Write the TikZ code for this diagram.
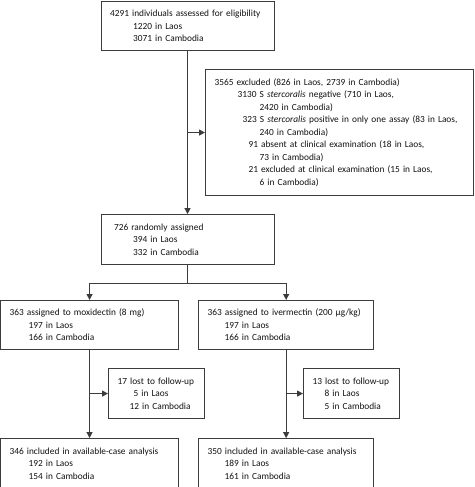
\documentclass[tikz,border=0pt]{standalone}
\usepackage{fontspec}
\setmainfont{Carlito}
\usepackage{tikz}
\usetikzlibrary{arrows.meta,positioning}

\definecolor{edgegray}{HTML}{3C3C3C}
\definecolor{inkgray}{HTML}{111111}
\newcommand{\ind}[2]{\hspace*{#1pt}#2}

\begin{document}
\begin{tikzpicture}[
  x=1pt, y=-1pt,
  font=\fontsize{9.35}{12.5}\selectfont,
  box/.style={draw=edgegray, line width=1.1pt, align=left, inner xsep=9pt, inner ysep=0pt, text=inkgray},
  flow/.style={-{Triangle[length=6pt,width=6pt]}, draw=edgegray, line width=1.1pt},
  link/.style={draw=edgegray, line width=1.1pt}
]
\clip (0,0) rectangle (474,487);

\node[box, anchor=north west, text width=155pt, minimum height=49pt] (elig) at (100.5,1)
  {4291 individuals assessed for eligibility\\ \ind{23}{1220 in Laos}\\ \ind{23}{3071 in Cambodia}};
\node[box, below=163pt of elig, text width=151pt, inner xsep=11pt, minimum height=50pt] (rand)
  {\ind{2}{726 randomly assigned}\\ \ind{21}{394 in Laos}\\ \ind{21}{332 in Cambodia}};
\node[box, anchor=north west, text width=250pt, minimum height=126pt] (excl) at (205,69)
  {3565 excluded (826 in Laos, 2739 in Cambodia)\\
   \ind{23}{3130 S \textit{stercoralis} negative (710 in Laos,}\\
   \ind{45}{2420 in Cambodia)}\\
   \ind{28}{323 S \textit{stercoralis} positive in only one assay (83 in Laos,}\\
   \ind{45}{240 in Cambodia)}\\
   \ind{34}{91 absent at clinical examination (18 in Laos,}\\
   \ind{45}{73 in Cambodia)}\\
   \ind{34}{21 excluded at clinical examination (15 in Laos,}\\
   \ind{45}{6 in Cambodia)}};

\node[box, anchor=north west, text width=160pt, minimum height=49pt] (moxi) at (0,300)
  {363 assigned to moxidectin (8 mg)\\ \ind{19}{197 in Laos}\\ \ind{19}{166 in Cambodia}};
\node[box, right=19pt of moxi, text width=157pt, minimum height=49pt] (iver)
  {363 assigned to ivermectin (200 µg/kg)\\ \ind{17}{197 in Laos}\\ \ind{17}{166 in Cambodia}};

\node[box, anchor=north west, text width=78pt, minimum height=50pt] (lostA) at (108,368)
  {17 lost to follow-up\\ \ind{16}{5 in Laos}\\ \ind{12}{12 in Cambodia}};
\node[box, anchor=north west, text width=78pt, minimum height=50pt] (lostB) at (303,368)
  {13 lost to follow-up\\ \ind{12}{8 in Laos}\\ \ind{12}{5 in Cambodia}};

\node[box, below=88pt of moxi, text width=160pt, minimum height=50pt] (availA)
  {346 included in available-case analysis\\ \ind{19}{192 in Laos}\\ \ind{19}{154 in Cambodia}};
\node[box, below=88pt of iver, text width=157pt, minimum height=50pt] (availB)
  {350 included in available-case analysis\\ \ind{17}{189 in Laos}\\ \ind{17}{161 in Cambodia}};

% screening
\coordinate (tapE) at (elig.south |- excl.west);
\draw[flow] (elig) -- (rand);
\draw[flow] (tapE) -- (excl);

% randomisation
\coordinate (fork) at ([yshift=-18pt]rand.south);
\draw[link] (rand) -- (fork);
\draw[flow] (fork) -| (moxi);
\draw[flow] (fork) -| (iver);

% follow-up
\coordinate (tapA) at (moxi.south |- lostA.west);
\coordinate (tapB) at (iver.south |- lostB.west);
\draw[flow] (moxi) -- (availA);
\draw[flow] (iver) -- (availB);
\draw[flow] (tapA) -- (lostA);
\draw[flow] (tapB) -- (lostB);
\end{tikzpicture}
\end{document}
